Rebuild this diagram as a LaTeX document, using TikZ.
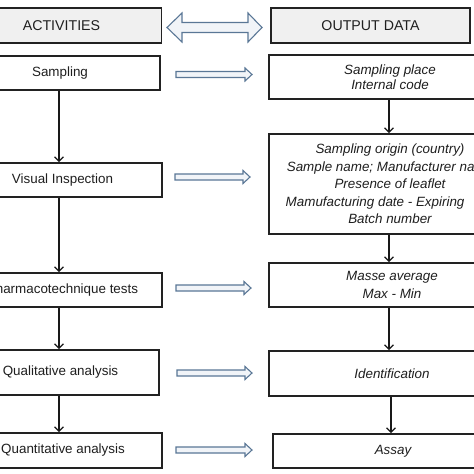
\documentclass[tikz,border=0pt]{standalone}
\usepackage{fontspec}
\setmainfont{Liberation Sans}
\usetikzlibrary{arrows.meta}
\definecolor{boxline}{HTML}{222222}
\definecolor{hdrfill}{HTML}{F0F0F0}
\definecolor{arrline}{HTML}{5A7796}
\definecolor{arrfill}{HTML}{F1F4F8}
\newcommand\blkarrow[3]{%
  \draw[blk] (#1,#3-3) -- (#2-7,#3-3) -- (#2-7,#3-6.5) -- (#2,#3) -- (#2-7,#3+6.5) -- (#2-7,#3+3) -- (#1,#3+3) -- cycle;}
\begin{document}
\begin{tikzpicture}[x=1pt,y=-1pt,
  box/.style={draw=boxline, line width=1.6pt, inner sep=0pt, align=center,
    font=\fontsize{13.4}{17.5}\selectfont, text=black!88},
  rbox/.style={box, font=\fontsize{13.4}{17.5}\selectfont\itshape},
  hdr/.style={box, fill=hdrfill, font=\fontsize{14.2}{17}\selectfont},
  flow/.style={draw=black!90, line width=1.3pt,
    -{Straight Barb[length=4.5pt,width=9pt,line width=1.3pt]}},
  blk/.style={draw=arrline, fill=arrfill, line width=1.1pt, line join=miter}
]
\useasboundingbox (0,0) rectangle (474,474);
\clip (0,0) rectangle (474,474);
\fill[white] (0,0) rectangle (474,474);

% headers
\node[hdr, minimum width=200pt, minimum height=35pt] (act) at (61.5,25.5) {ACTIVITIES};
\node[hdr, minimum width=199pt, minimum height=35pt] (out) at (370.5,25.5) {OUTPUT DATA};

% left column
\node[box, minimum width=200pt, minimum height=34pt] (s)  at (60,73)    {Sampling};
\node[box, minimum width=199pt, minimum height=34pt] (v)  at (62.5,180) {Visual Inspection};
\node[box, minimum width=199pt, minimum height=34pt] (p)  at (62.5,290) {Pharmacotechnique tests};
\node[box, minimum width=197pt, minimum height=45pt] (ql) at (60.5,372.5) {Qualitative analysis};
\node[box, minimum width=198pt, minimum height=35pt] (qn) at (63,450.5) {Quantitative analysis};

% right column
\node[rbox, minimum width=242pt, minimum height=44pt, font=\fontsize{13.4}{15.5}\selectfont\itshape] (r1) at (390,77)
  {Sampling place\\Internal code};
\node[rbox, minimum width=242pt, minimum height=100pt] (r2) at (390,184)
  {Sampling origin (country)\\Sample name; Manufacturer name\\Presence of leaflet\\Mamufacturing date - Expiring\phantom{ date}\\Batch number};
\node[rbox, minimum width=246pt, minimum height=44pt, font=\fontsize{13.4}{18}\selectfont\itshape] (r3) at (392,285)
  {Masse average\\Max - Min};
\node[rbox, minimum width=246pt, minimum height=45pt] (r4) at (392,373.5) {Identification};
\node[rbox, minimum width=240pt, minimum height=34pt] (r5) at (393,451) {Assay};

% vertical flow
\coordinate (lx) at (59,0);
\coordinate (rx) at (389,0);
\coordinate (rx2) at (391,0);
\draw[flow] (s.south -| lx)  -- (v.north -| lx);
\draw[flow] (v.south -| lx)  -- (p.north -| lx);
\draw[flow] (p.south -| lx)  -- (ql.north -| lx);
\draw[flow] (ql.south -| lx) -- (qn.north -| lx);
\draw[flow] (r1.south -| rx) -- (r2.north -| rx);
\draw[flow] (r2.south -| rx) -- (r3.north -| rx);
\draw[flow] (r3.south -| rx) -- (r4.north -| rx);
\draw[flow] (r4.south -| rx2) -- (r5.north -| rx2);

% block arrows
\draw[blk] (167,27.5) -- (182,13) -- (182,22.5) -- (248,22.5) -- (248,13) -- (262,27.5)
  -- (248,42) -- (248,32.5) -- (182,32.5) -- (182,42) -- cycle;
\blkarrow{176}{252}{74.5}
\blkarrow{175}{250}{177}
\blkarrow{176}{251}{288}
\blkarrow{177}{252}{373}
\blkarrow{176}{252}{450}
\end{tikzpicture}
\end{document}
